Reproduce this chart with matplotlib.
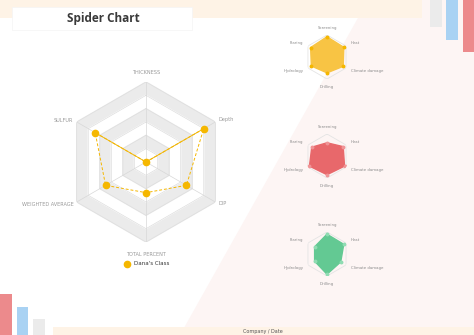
import numpy as np
import matplotlib
matplotlib.use("Agg")
import matplotlib.pyplot as plt
from matplotlib.patches import Rectangle, Polygon

# main radar
main_axes = ["THICKNESS", "Depth", "DIP", "TOTAL PERCENT", "WEIGHTED AVERAGE", "SULFUR"]
main_values = [0.0, 5.0, 3.5, 2.3, 3.5, 4.4]
main_max = 6
series_name = "Dana's Class"

# small radars
small_axes = ["Screening", "Heat", "Climate damage", "Drilling", "Hydrology", "Flaring"]
yellow_values = [0.92, 0.88, 0.85, 0.72, 0.82, 0.86]
red_values = [0.60, 0.85, 0.92, 0.85, 0.92, 0.80]
green_values = [0.90, 0.88, 0.72, 0.92, 0.65, 0.65]

W, H = 474, 335
fig = plt.figure(figsize=(W / 100, H / 100), dpi=100)
fig.patch.set_facecolor("white")

# background decorations in pixel coords
bg = fig.add_axes([0, 0, 1, 1])
bg.set_xlim(0, W)
bg.set_ylim(H, 0)
bg.axis("off")
bg.add_patch(Polygon([(368, 0), (W, 0), (W, H), (180, H)], closed=True, fc="#fdf5f4", ec="none"))
bg.add_patch(Rectangle((0, 0), 422, 18, fc="#fef3e6", ec="none"))
bg.add_patch(Rectangle((12, 7), 180, 23, fc="white", ec="#f4f4f4", lw=0.5))
bg.text(103, 18.5, "Spider Chart", ha="center", va="center", fontsize=8.5,
        fontweight="bold", color="#3a3a3a", family="Open Sans")
bg.add_patch(Rectangle((430, 0), 12, 27, fc="#ebebeb", ec="none"))
bg.add_patch(Rectangle((446, 0), 12, 40, fc="#a9d2f3", ec="none"))
bg.add_patch(Rectangle((463, 0), 11, 52, fc="#ec8a8c", ec="none"))
bg.add_patch(Rectangle((0, 294), 12, 41, fc="#ec8a8c", ec="none"))
bg.add_patch(Rectangle((17, 307), 11, 28, fc="#a9d2f3", ec="none"))
bg.add_patch(Rectangle((33, 319), 12, 16, fc="#ebebeb", ec="none"))
bg.add_patch(Rectangle((53, 327), W - 53, 8, fc="#fef3e6", ec="none"))
bg.text(263, 331, "Company / Date", ha="center", va="center", fontsize=3.5, color="#555555")


def polar_axes(cx, cy, r):
    ax = fig.add_axes([(cx - r) / W, (H - cy - r) / H, 2 * r / W, 2 * r / H], projection="polar")
    ax.set_theta_offset(np.pi / 2)
    ax.set_theta_direction(-1)
    ax.set_facecolor("none")
    ax.grid(False)
    ax.spines["polar"].set_visible(False)
    ax.set_xticks([])
    ax.set_yticks([])
    return ax


# main radar
n = len(main_axes)
angles = np.linspace(0, 2 * np.pi, n, endpoint=False)
loop = np.append(angles, angles[0])
ax = polar_axes(146, 162, 80)
ax.set_ylim(0, main_max)
for lvl in range(main_max, 0, -1):
    col = "#ebebeb" if lvl % 2 == 0 else "white"
    ax.fill(loop, [lvl] * (n + 1), color=col, zorder=1)
    ax.plot(loop, [lvl] * (n + 1), color="#dedede", lw=0.5, zorder=2)
for a in angles:
    ax.plot([a, a], [0, main_max], color="#d8d8d8", lw=0.5, zorder=2)

vals = np.append(main_values, main_values[0])
ax.plot(loop, vals, color="#f5b700", lw=0.7, ls=(0, (3, 2)), zorder=3)
ax.plot([angles[5], angles[0], angles[1]], [main_values[5], main_values[0], main_values[1]],
        color="#f5b700", lw=0.6, zorder=3)
ax.plot(angles, main_values, "o", color="#f5b700", ms=4.5, zorder=4, clip_on=False)

label_pos = [(6.7, "center", "center"), (6.3, "left", "center"), (6.3, "left", "center"),
             (6.9, "center", "center"), (6.3, "right", "center"), (6.3, "right", "center")]
for a, lab, (r, ha, va) in zip(angles, main_axes, label_pos):
    ax.text(a, r, lab, ha=ha, va=va, fontsize=3.6, color="#999999", clip_on=False)

# legend
bg.plot([127], [263.5], "o", color="#f5b700", ms=4.5)
bg.text(134, 263.5, series_name, ha="left", va="center", fontsize=4, color="#333333")


def small_radar(cx, cy, values, color, dot):
    sax = polar_axes(cx, cy, 22)
    sax.set_ylim(0, 1)
    sax.plot(loop, [1] * (n + 1), color="#e4e4e4", lw=0.6)
    v = np.append(values, values[0])
    sax.fill(loop, v, color=color, zorder=3)
    sax.plot(angles, values, "o", color=dot, ms=1.8, zorder=4)
    pos = [(1.33, "center"), (1.25, "left"), (1.25, "left"), (1.38, "center"), (1.25, "right"), (1.25, "right")]
    for a, lab, (r, ha) in zip(angles, small_axes, pos):
        sax.text(a, r, lab, ha=ha, va="center", fontsize=2.8, color="#8a8a8a", clip_on=False)


small_radar(327, 57, yellow_values, "#f8c444", "#f5b700")
small_radar(327, 156, red_values, "#e8686b", "#f09496")
small_radar(327, 254, green_values, "#63c993", "#8fdcb2")

fig.savefig("out.png", dpi=100)
